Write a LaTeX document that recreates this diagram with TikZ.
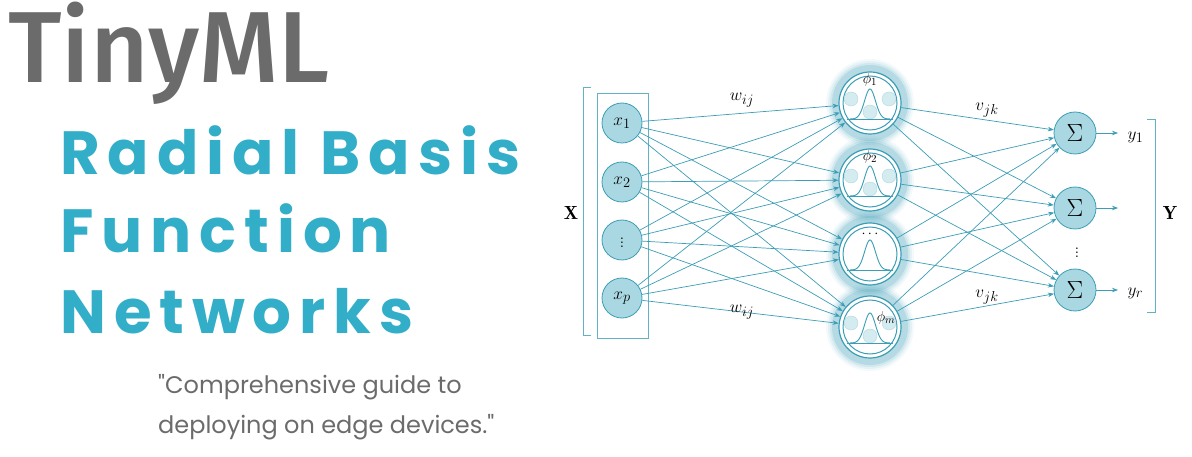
\documentclass[tikz,border=0pt]{standalone}
\usepackage{fontspec}
\usetikzlibrary{arrows.meta,positioning}
\newfontfamily\titlefont{Fira Sans Medium}
\newfontfamily\headfont[LetterSpace=13]{Poppins Bold}
\newfontfamily\quotefont{Poppins}
\definecolor{rbfteal}{HTML}{3C9DB6}
\definecolor{rbffill}{HTML}{A9D7E2}
\definecolor{rbfhead}{HTML}{33AEC8}
\definecolor{rbfgray}{HTML}{6B6B6B}
\tikzset{
  unit/.style={circle, draw=rbfteal, fill=rbffill, line width=0.8pt, minimum size=40pt, inner sep=0pt},
  rbf/.style={circle, draw=rbfteal, fill=white, line width=1.2pt, minimum size=62pt, inner sep=0pt},
  link/.style={draw=rbfteal, line width=0.7pt, -{Stealth[length=6pt]}},
  bracket/.style={draw=rbfteal!80, line width=1pt},
}
\newcommand{\bump}[3]{\draw[rbfteal, line width=0.9pt] plot[domain=-#3:#3, samples=40, smooth] ({#1+\x},{#2-30*exp(-(\x/(#3/2.6))^2)});}
\begin{document}
\begin{tikzpicture}[x=1pt, y=-1pt, every node/.append style={font=\fontsize{19}{19}\selectfont}]
\useasboundingbox (0,0) rectangle (1192,457);
% titles
\node[anchor=base west, text=rbfgray, font=\titlefont\fontsize{101}{101}\selectfont, inner sep=0pt] (tiny) at (8,83) {TinyML};
\node[anchor=base west, text=rbfhead, font=\headfont\fontsize{61}{61}\selectfont, inner sep=0pt] (line1) at (60,175) {Radial Basis};
\node[anchor=base west, text=rbfhead, font=\headfont\fontsize{61}{61}\selectfont, inner sep=0pt] (line2) at (60,253) {Function};
\node[anchor=base west, text=rbfhead, font=\headfont\fontsize{61}{61}\selectfont, inner sep=0pt] (line3) at (60,333) {Networks};
\node[anchor=base west, text=rbfgray, font=\quotefont\fontsize{24}{24}\selectfont, inner sep=0pt] (quote1) at (158,393) {"Comprehensive guide to};
\node[anchor=base west, text=rbfgray, font=\quotefont\fontsize{24}{24}\selectfont, inner sep=0pt] (quote2) at (158,433) {deploying on edge devices."};
% inputs
\draw[rbfteal!80, line width=0.8pt] (597,93) rectangle (648,338);
\node[unit] (x1) at (622,123) {$x_1$};
\node[unit] (x2) at (622,182) {$x_2$};
\node[unit] (x3) at (622,240) {$\vdots$};
\node[unit] (x4) at (622,298) {$x_p$};
\draw[bracket] (591,88) -- (583,88) -- (583,335) -- (591,335);
\node (X) at (571,213) {$\mathbf{X}$};
% hidden units with glow
\foreach \n/\yy in {1/103,2/180,3/254,4/327}{
  \foreach \r/\o in {44/0.06,42/0.08,40/0.12,38/0.18}
    \fill[rbfteal, opacity=\o] (870,\yy) circle (\r);
  \node[rbf] (h\n) at (870,\yy) {};
  \draw[rbfteal, line width=1pt] (870,\yy) circle (27);
}
\foreach \n/\yy in {1/103,2/180,4/327}{
  \foreach \dx/\dy in {-19/-4,19/-4,0/9}
    \fill[rbffill!50, draw=rbfteal!40, line width=0.4pt] (870+\dx,\yy+\dy) circle (7);
  \draw[rbfteal, line width=0.6pt] (847,\yy+16) -- (893,\yy+16);
  \bump{870}{\yy+16}{20}
}
\draw[rbfteal, line width=0.6pt] (847,270) -- (893,270);
\bump{870}{270}{20}
\node[font=\fontsize{15}{15}\selectfont] (phi1) at (870,80) {$\phi_1$};
\node[font=\fontsize{15}{15}\selectfont] (phi2) at (870,157) {$\phi_2$};
\node[font=\fontsize{15}{15}\selectfont] (phi3) at (870,234) {$\cdots$};
\node[font=\fontsize{15}{15}\selectfont] (phi4) at (886,318) {$\phi_m$};
% outputs
\node[unit, minimum size=42pt, font=\fontsize{26}{26}\selectfont] (s1) at (1075,133) {$\Sigma$};
\node[unit, minimum size=42pt, font=\fontsize{26}{26}\selectfont] (s2) at (1075,208) {$\Sigma$};
\node[unit, minimum size=42pt, font=\fontsize{26}{26}\selectfont] (s3) at (1075,290) {$\Sigma$};
\node (sdots) at (1077,250) {$\vdots$};
\coordinate (o1) at (1118,133);
\coordinate (o2) at (1118,208);
\coordinate (o3) at (1118,290);
\node[anchor=west] (y1) at (1124,137) {$y_1$};
\node[anchor=west] (yr) at (1124,293) {$y_r$};
\draw[bracket] (1147,120) -- (1155,120) -- (1155,312) -- (1147,312);
\node (Y) at (1170,213) {$\mathbf{Y}$};
% connections
\foreach \i in {1,...,4}
  \foreach \j in {1,...,4}
    \draw[link] (x\i) -- (h\j);
\foreach \j in {1,...,4}
  \foreach \k in {1,...,3}
    \draw[link] (h\j) -- (s\k);
\foreach \k in {1,...,3}
  \draw[link] (s\k) -- (o\k);
\node (w1) at (742,100) {$w_{ij}$};
\node (w2) at (742,312) {$w_{ij}$};
\node (v1) at (987,110) {$v_{jk}$};
\node (v2) at (987,297) {$v_{jk}$};
\end{tikzpicture}
\end{document}
